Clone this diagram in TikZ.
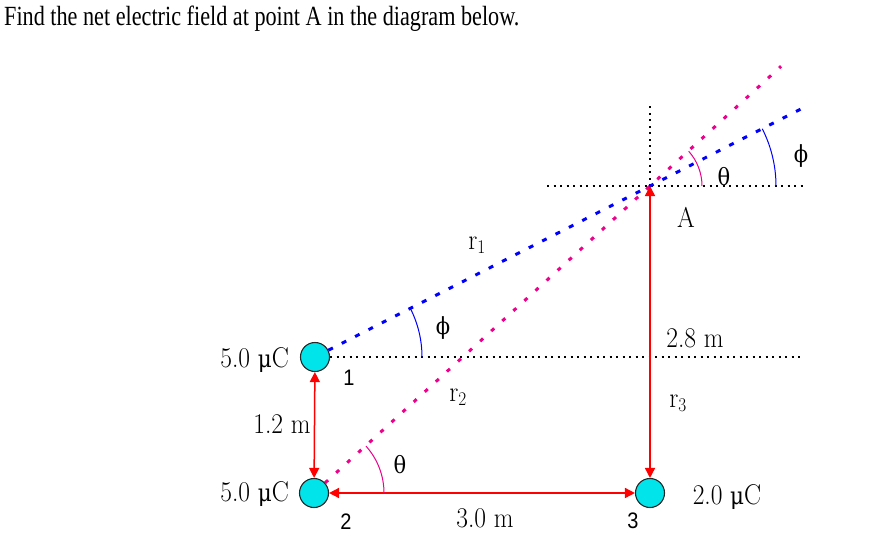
\documentclass[tikz,border=0pt]{standalone}
\usepackage{fontspec}
\newfontfamily\titrefont{Liberation Serif}
\newfontfamily\indicefont{Liberation Sans}
\newfontfamily\grecfont{DejaVu Serif}
\usepackage{tikz}
\usetikzlibrary{calc}
\usetikzlibrary{arrows.meta}
\definecolor{cyanboule}{RGB}{0,228,234}
\newcommand{\haut}[1]{\scalebox{1}[1.12]{#1}} % texte un peu étiré en hauteur
\newcommand{\mic}{{\grecfont\fontsize{21.5}{25}\selectfont μ}}

\begin{document}
\begin{tikzpicture}[x=1pt,y=1pt]
% définition des paramètres
\tikzstyle chargeboule=[circle,draw=black!85,line width=1.1pt,fill=cyanboule,minimum size=29pt,inner sep=0pt]
\tikzstyle pointillenoir=[color=black,line width=1.3pt,dash pattern=on 2pt off 4.5pt]
\tikzstyle pointillebleu=[color=blue,line width=3pt,dash pattern=on 5pt off 10pt]
\tikzstyle pointillerose=[color=magenta,line width=3pt,dash pattern=on 4pt off 11pt]
\tikzstyle distfleche=[color=red,line width=1.5pt,{Triangle[length=10pt,width=10pt]}-{Triangle[length=10pt,width=10pt]}]
\tikzstyle arcbleu=[color=blue,line width=1pt]
\tikzstyle arcrose=[color=magenta,line width=1pt]
\tikzstyle etiq=[font=\fontsize{25.5}{29}\selectfont,inner sep=0pt]
\tikzstyle grec=[font=\grecfont\fontsize{21}{25}\selectfont,inner sep=0pt]
\tikzstyle indice=[font=\indicefont\fontsize{20}{24}\selectfont,inner sep=0pt]
\newcommand{\rbleu}{107}  % rayon de l'arc phi en 1
\newcommand{\rrose}{70}   % rayon de l'arc theta en 2
\newcommand{\angphi}{27}
\newcommand{\angtheta}{42}
% le cadre
\useasboundingbox (0,0) rectangle (871,-550);
\node[anchor=west,inner sep=0pt,font=\titrefont\fontsize{22.2}{26}\selectfont] (titre) at (4,-19) {\scalebox{1}[1.25]{Find the net electric field at point A in the diagram below.}};
% les charges et le point A
\node[chargeboule] (q1) at (315,-357) {};
\node[chargeboule] (q2) at (314,-493) {};
\node[chargeboule] (q3) at (650,-493) {};
\coordinate (A) at (650,-186);
% les pointillés
\draw [pointillenoir] (A) -- ($(A)+(0,80)$);
\draw [pointillenoir] ($(A)+(-103,0)$) -- ($(A)+(157,0)$);
\draw [pointillenoir] (q1) -- (800,-357);
\draw [pointillebleu] (q1) -- ($(q1)!1.455!(A)$);
\draw [pointillerose] (q2) -- ($(q2)!1.39!(A)$);
% les distances
\draw [distfleche] (q1) -- (q2);
\draw [distfleche] (q2) -- (q3);
\draw [distfleche] (A) -- (q3);
% les angles
\draw [arcbleu] ($(q1)+(\rbleu,0)$) arc[start angle=0,end angle=\angphi,radius=\rbleu];
\draw [arcrose] ($(q2)+(\rrose,0)$) arc[start angle=0,end angle=\angtheta,radius=\rrose];
\draw [arcrose] ($(A)+(52,0)$) arc[start angle=0,end angle=\angtheta,radius=52];
\draw [arcbleu] ($(A)+(126,0)$) arc[start angle=0,end angle=\angphi,radius=126];
% les textes
\node[etiq,anchor=east] (c1) at (289,-360) {\haut{5.0 \mic C}};
\node[etiq,anchor=east] (c2) at (289,-494) {\haut{5.0 \mic C}};
\node[etiq] (c3) at (727,-497) {\haut{2.0 \mic C}};
\node[indice] (n1) at (349,-378) {\haut{1}};
\node[indice] (n2) at (346,-522) {\haut{2}};
\node[indice] (n3) at (633,-521) {\haut{3}};
\node[etiq] (d12) at (282,-424) {\haut{1.2 m}};
\node[etiq] (d23) at (485,-518) {\haut{3.0 m}};
\node[etiq] (d3A) at (695,-338) {\haut{2.8 m}};
\node[etiq] (lA) at (686,-217) {\haut{A}};
\node[etiq] (r1) at (477,-245) {\haut{r$_1$}};
\node[etiq] (r2) at (458,-397) {\haut{r$_2$}};
\node[etiq] (r3) at (678,-403) {\haut{r$_3$}};
\node[grec] (t2) at (400,-465) {\haut{θ}};
\node[grec] (p1) at (443,-328) {\haut{ϕ}};
\node[grec] (tA) at (724,-177) {\haut{θ}};
\node[grec] (pA) at (801,-156) {\haut{ϕ}};
\end{tikzpicture}
\end{document}
